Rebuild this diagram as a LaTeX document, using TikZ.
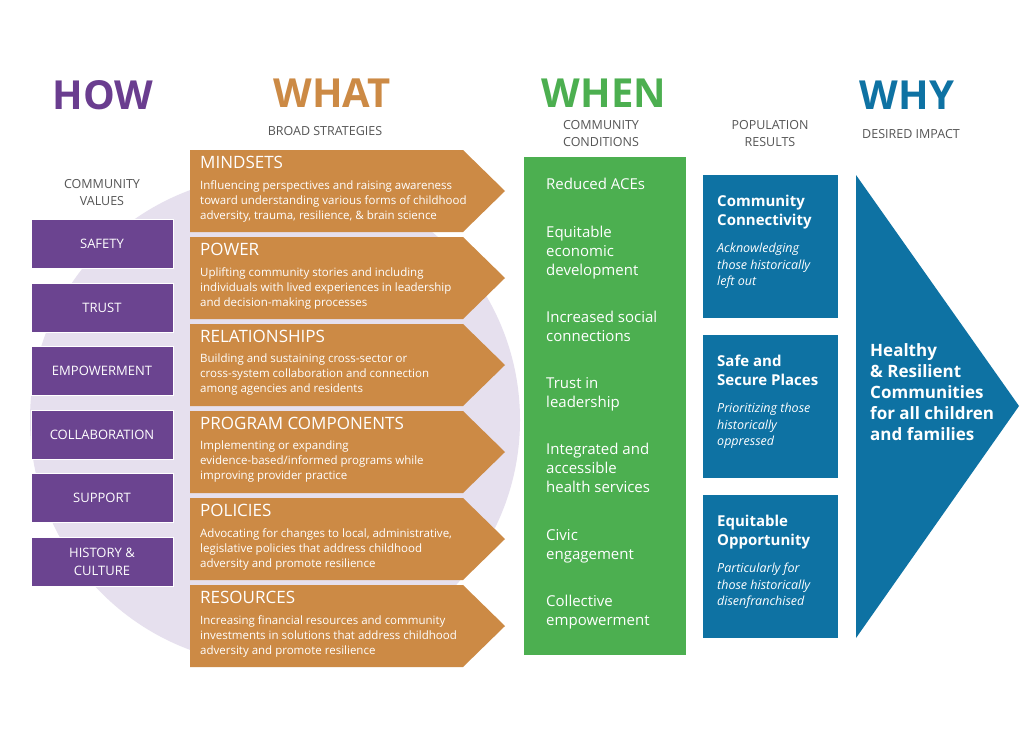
\documentclass[tikz,border=0pt]{standalone}
\usepackage{fontspec}
\setmainfont{Open Sans}
\definecolor{hpur}{HTML}{6A3D8F}
\definecolor{bpur}{HTML}{6B4490}
\definecolor{org}{HTML}{CC8A45}
\definecolor{grn}{HTML}{4CAF50}
\definecolor{blu}{HTML}{0E72A3}
\definecolor{lav}{HTML}{E6E0EE}
\definecolor{gry}{HTML}{555555}
\begin{document}
\begin{tikzpicture}[x=1pt,y=-1pt,
 hd/.style={font=\fontsize{40}{40}\selectfont\bfseries},
 sub/.style={text=gry,font=\fontsize{12.5}{17}\selectfont,align=center},
 val/.style={fill=bpur,draw=white,line width=1pt,minimum width=142,minimum height=49,text=white,font=\fontsize{13}{18}\selectfont,align=center,inner sep=0},
 wt/.style={text=white,anchor=north west,align=left,inner sep=0},
 gt/.style={wt,font=\fontsize{15}{19}\selectfont},
 bt/.style={wt,font=\fontsize{15}{19}\selectfont\bfseries},
 it/.style={wt,font=\fontsize{12.5}{16.5}\selectfont\itshape}]
\useasboundingbox (0,0) rectangle (1024,728);
\fill[white] (0,0) rectangle (1024,728);
\fill[lav] (275,420) circle (245);
\node[hd,text=hpur] (how) at (103,95) {HOW};
\node[hd,text=org] (what) at (332,93) {WHAT};
\node[hd,text=grn] (when) at (604,93) {WHEN};
\node[hd,text=blu] (why) at (907,95) {WHY};
\node[sub] (s1) at (325,131) {BROAD STRATEGIES};
\node[sub] (s2) at (601,134) {COMMUNITY\\CONDITIONS};
\node[sub] (s3) at (770,134) {POPULATION\\RESULTS};
\node[sub] (s4) at (911,134) {DESIRED IMPACT};
\node[sub] (s5) at (102,193) {COMMUNITY\\VALUES};
\foreach \t/\y [count=\i] in {SAFETY/243.5,TRUST/307.5,EMPOWERMENT/370.5,COLLABORATION/434.5,SUPPORT/497.5,{HISTORY \&\\CULTURE}/561.5}
  \node[val] (v\i) at (102,\y) {\t};
\foreach \y/\ti/\body [count=\i] in {
 150/MINDSETS/{Influencing perspectives and raising awareness\\toward understanding various forms of childhood\\adversity, trauma, resilience, \& brain science},
 237/POWER/{Uplifting community stories and including\\individuals with lived experiences in leadership\\and decision-making processes},
 324/RELATIONSHIPS/{Building and sustaining cross-sector or\\cross-system collaboration and connection\\among agencies and residents},
 411/PROGRAM COMPONENTS/{Implementing or expanding\\evidence-based/informed programs while\\improving provider practice},
 498/POLICIES/{Advocating for changes to local, administrative,\\legislative policies that address childhood\\adversity and promote resilience},
 585/RESOURCES/{Increasing financial resources and community\\investments in solutions that address childhood\\adversity and promote resilience}}{
 \fill[org] (190,\y) -- (463,\y) -- (505,\y+41) -- (463,\y+82) -- (190,\y+82) -- cycle;
 \node[wt,font=\fontsize{17}{20}\selectfont] (t\i) at (200,\y+6) {\ti};
 \node[wt,font=\fontsize{11.5}{15}\selectfont] (b\i) at (200,\y+30) {\body};
}
\fill[grn] (524,157) rectangle (686,655);
\foreach \y/\t [count=\i] in {178/{Reduced ACEs},226/{Equitable\\economic\\development},311/{Increased social\\connections},377/{Trust in\\leadership},443/{Integrated and\\accessible\\health services},529/{Civic\\engagement},595/{Collective\\empowerment}}
  \node[gt] (g\i) at (546,\y) {\t};
\foreach \y/\ti/\sb [count=\i] in {175/{Community\\Connectivity}/{Acknowledging\\those historically\\left out},335/{Safe and\\Secure Places}/{Prioritizing those\\historically\\oppressed},495/{Equitable\\Opportunity}/{Particularly for\\those historically\\disenfranchised}}{
 \fill[blu] (703,\y) rectangle (838,\y+143);
 \node[bt] (p\i) at (717,\y+20) {\ti};
 \node[it] (q\i) at (717,\y+68) {\sb};
}
\fill[blu] (856,175) -- (1019,406) -- (856,638) -- cycle;
\node[wt,font=\fontsize{17}{21}\selectfont\bfseries] (imp) at (870,343) {Healthy\\\& Resilient\\Communities\\for all children\\and families};
\end{tikzpicture}
\end{document}
